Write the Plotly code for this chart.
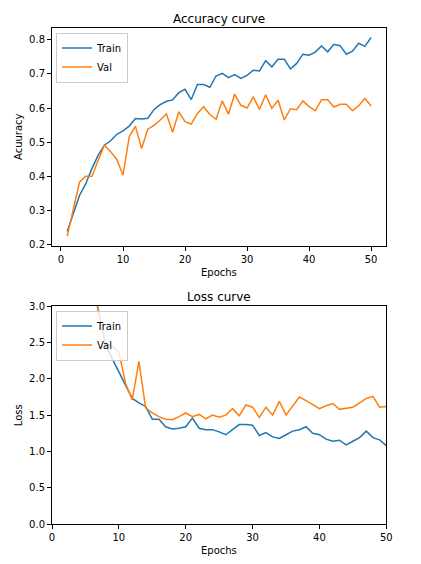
import plotly.graph_objects as go

# values
epochs = list(range(1, 51))

train_acc = [0.238, 0.290, 0.344, 0.378, 0.423, 0.462, 0.491, 0.504, 0.523, 0.533,
             0.547, 0.569, 0.568, 0.570, 0.596, 0.610, 0.620, 0.624, 0.645, 0.655,
             0.625, 0.669, 0.669, 0.661, 0.694, 0.702, 0.689, 0.698, 0.687, 0.696,
             0.711, 0.709, 0.739, 0.721, 0.743, 0.743, 0.715, 0.731, 0.758, 0.755,
             0.764, 0.782, 0.765, 0.787, 0.783, 0.758, 0.767, 0.790, 0.781, 0.807]
val_acc = [0.224, 0.300, 0.383, 0.400, 0.400, 0.447, 0.491, 0.472, 0.449, 0.403,
           0.516, 0.547, 0.481, 0.538, 0.549, 0.565, 0.583, 0.529, 0.589, 0.560,
           0.553, 0.584, 0.604, 0.581, 0.567, 0.621, 0.582, 0.641, 0.608, 0.600,
           0.633, 0.596, 0.639, 0.599, 0.623, 0.565, 0.598, 0.595, 0.621, 0.604,
           0.592, 0.624, 0.624, 0.603, 0.611, 0.611, 0.592, 0.607, 0.628, 0.606]

train_loss = [5.50, 4.60, 4.10, 3.80, 3.55, 3.30, 2.92, 2.47, 2.28, 2.10,
              1.92, 1.73, 1.67, 1.62, 1.445, 1.445, 1.34, 1.31, 1.32, 1.34,
              1.46, 1.32, 1.30, 1.30, 1.27, 1.23, 1.30, 1.37, 1.37, 1.36,
              1.22, 1.26, 1.20, 1.18, 1.23, 1.28, 1.30, 1.34, 1.25, 1.23,
              1.17, 1.14, 1.155, 1.09, 1.14, 1.19, 1.28, 1.19, 1.16, 1.08]
val_loss = [4.80, 4.30, 3.90, 3.60, 3.40, 3.35, 2.92, 2.49, 2.45, 2.37,
            1.94, 1.71, 2.24, 1.60, 1.53, 1.48, 1.445, 1.436, 1.48, 1.53,
            1.48, 1.51, 1.45, 1.50, 1.47, 1.50, 1.59, 1.49, 1.64, 1.61,
            1.47, 1.61, 1.50, 1.69, 1.50, 1.63, 1.75, 1.70, 1.65, 1.59,
            1.63, 1.66, 1.58, 1.60, 1.61, 1.67, 1.73, 1.76, 1.61, 1.62]

W, H = 421, 564
BLUE = '#1f77b4'
ORANGE = '#ff7f0e'
FONT = 'DejaVu Sans'

# axes boxes in pixels (left, right, top, bottom)
ax1 = (52, 386.3, 28.3, 245.7)
ax2 = (52, 386.3, 306.3, 524)


def xdom(b):
    return [b[0] / W, b[1] / W]


def ydom(b):
    return [1 - b[3] / H, 1 - b[2] / H]


fig = go.Figure()
fig.add_trace(go.Scatter(x=epochs, y=train_acc, name='Train', mode='lines',
                         line=dict(color=BLUE, width=1.5), xaxis='x', yaxis='y',
                         legend='legend'))
fig.add_trace(go.Scatter(x=epochs, y=val_acc, name='Val', mode='lines',
                         line=dict(color=ORANGE, width=1.5), xaxis='x', yaxis='y',
                         legend='legend'))
fig.add_trace(go.Scatter(x=epochs, y=train_loss, name='Train', mode='lines',
                         line=dict(color=BLUE, width=1.5), xaxis='x2', yaxis='y2',
                         legend='legend2'))
fig.add_trace(go.Scatter(x=epochs, y=val_loss, name='Val', mode='lines',
                         line=dict(color=ORANGE, width=1.5), xaxis='x2', yaxis='y2',
                         legend='legend2'))

axis_style = dict(showline=True, linecolor='black', linewidth=1, mirror=True,
                  ticks='outside', ticklen=4, tickwidth=1, tickcolor='black',
                  showgrid=False, zeroline=False, automargin=False,
                  tickfont=dict(family=FONT, size=10, color='black'))

legend_style = dict(x=56 / W, xanchor='left', bgcolor='rgba(255,255,255,0.8)',
                    bordercolor='#cccccc', borderwidth=1,
                    font=dict(family=FONT, size=10, color='black'),
                    tracegroupgap=0, itemwidth=30)

fig.update_layout(
    width=W, height=H,
    margin=dict(l=0, r=0, t=0, b=0, autoexpand=False),
    paper_bgcolor='white', plot_bgcolor='white',
    font=dict(family=FONT, size=10, color='black'),
    xaxis=dict(domain=xdom(ax1), range=[-1.45, 52.45], tickvals=[0, 10, 20, 30, 40, 50],
               anchor='y', **axis_style),
    yaxis=dict(domain=ydom(ax1), range=[0.196, 0.834], tickvals=[0.2, 0.3, 0.4, 0.5, 0.6, 0.7, 0.8],
               tickformat='.1f', anchor='x', **axis_style),
    xaxis2=dict(domain=xdom(ax2), range=[0, 50], tickvals=[0, 10, 20, 30, 40, 50],
                anchor='y2', **axis_style),
    yaxis2=dict(domain=ydom(ax2), range=[0, 3], tickvals=[0, 0.5, 1, 1.5, 2, 2.5, 3],
                tickformat='.1f', anchor='x2', **axis_style),
    legend=dict(y=1 - 32.5 / H, yanchor='top', **legend_style),
    legend2=dict(y=1 - 310.5 / H, yanchor='top', **legend_style),
)

# titles and axis labels
notes = [
    ('Accuracy curve', (ax1[0] + ax1[1]) / 2, 19, 12, 0),
    ('Epochs', (ax1[0] + ax1[1]) / 2, 272, 10, 0),
    ('Acuuracy', 18, (ax1[2] + ax1[3]) / 2, 10, -90),
    ('Loss curve', (ax2[0] + ax2[1]) / 2, 297, 12, 0),
    ('Epochs', (ax2[0] + ax2[1]) / 2, 550, 10, 0),
    ('Loss', 18, (ax2[2] + ax2[3]) / 2, 10, -90),
]
for text, px, py, size, angle in notes:
    fig.add_annotation(text=text, x=px / W, y=1 - py / H, xref='paper', yref='paper',
                       xanchor='center', yanchor='middle', showarrow=False,
                       textangle=angle, font=dict(family=FONT, size=size, color='black'))

# page margin off so the 421x564 figure fills the window exactly
fig.write_html("out.html", post_script="document.body.style.margin='0';",
               config={'displayModeBar': False})
